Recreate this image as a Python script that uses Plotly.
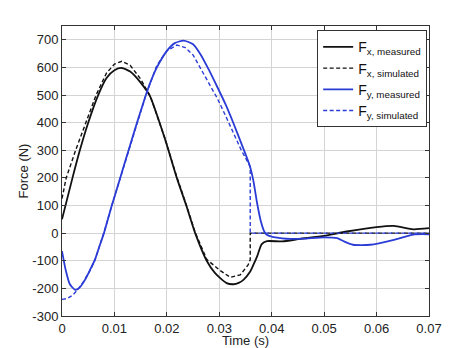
import plotly.graph_objects as go

# ---- data ----
fx_meas_t = [0, 0.001, 0.002, 0.0034, 0.005, 0.0069, 0.0085, 0.010, 0.0114, 0.013, 0.015,
             0.0168, 0.0197, 0.0219, 0.0237, 0.0254, 0.0276, 0.0292, 0.0314, 0.0327, 0.0337,
             0.0346, 0.0359, 0.0365, 0.0372, 0.0381, 0.0391, 0.042, 0.0454, 0.050, 0.0543,
             0.060, 0.0633, 0.067, 0.070]
fx_meas = [50, 125, 200, 300, 400, 500, 562, 590, 598, 585, 545,
           495, 337, 200, 100, 0, -100, -145, -181, -185, -180,
           -169, -139, -115, -85, -40, -29, -30, -21, -10, 6,
           22, 26, 14, 18]

fx_sim_t = [0, 0.0008, 0.0026, 0.0045, 0.0065, 0.0085, 0.010, 0.0114, 0.013, 0.015, 0.0168,
            0.0197, 0.0219, 0.0237, 0.0254, 0.0276, 0.030, 0.0321, 0.034, 0.0355, 0.0359,
            0.0359, 0.070]
fx_sim = [125, 200, 300, 400, 500, 580, 612, 622, 608, 558, 497,
          340, 203, 103, 3, -95, -133, -160, -151, -115, -96,
          0, 0]

fy_meas_t = [0, 0.0007, 0.0015, 0.0025, 0.0033, 0.0043, 0.0053, 0.0063, 0.0071, 0.008,
             0.0095, 0.0111, 0.0127, 0.0143, 0.016, 0.0168, 0.0181, 0.020, 0.0215, 0.0232,
             0.025, 0.0264, 0.028, 0.0296, 0.0312, 0.0327, 0.0342, 0.0358, 0.0365, 0.0372,
             0.0379, 0.0386, 0.039, 0.040, 0.042, 0.0435, 0.046, 0.050, 0.0525, 0.0538,
             0.0555, 0.0588, 0.0633, 0.067, 0.070]
fy_meas = [-65, -133, -185, -205, -198, -172, -135, -95, -50, 0,
           100, 200, 300, 400, 500, 543, 600, 660, 688, 697,
           684, 648, 592, 530, 466, 398, 325, 245, 190, 110,
           45, 5, -5, -13, -19, -21, -20, -15, -18, -30,
           -42, -42, -24, -5, -4]

fy_sim_t = [0, 0.001, 0.002, 0.003, 0.004, 0.0053, 0.0063, 0.008, 0.0095, 0.0111, 0.0127,
            0.0143, 0.016, 0.0181, 0.020, 0.0219, 0.0235, 0.025, 0.0264, 0.028, 0.0296,
            0.0312, 0.0327, 0.0342, 0.0359, 0.0359, 0.070]
fy_sim = [-240, -237, -225, -205, -178, -137, -97, 2, 100, 200, 300,
          400, 500, 608, 660, 681, 672, 645, 598, 545, 489,
          425, 362, 300, 241, 0, 0]

x_ticks = [0, 0.01, 0.02, 0.03, 0.04, 0.05, 0.06, 0.07]
x_ticktext = ["0", "0.01", "0.02", "0.03", "0.04", "0.05", "0.06", "0.07"]
y_ticks = [-300, -200, -100, 0, 100, 200, 300, 400, 500, 600, 700]
y_ticktext = ["-300", "-200", "-100", "0", "100", "200", "300", "400", "500", "600", "700"]

BLUE = "#2b3cd6"
BLACK = "#111111"
DASH = "4px,2.5px"
FONT = "Liberation Sans, Arial, sans-serif"

fig = go.Figure()
fig.add_trace(go.Scatter(x=fx_meas_t, y=fx_meas, mode="lines",
                         line=dict(color=BLACK, width=1.8, shape="spline", smoothing=0.6),
                         name="F<sub>x, measured</sub>"))
fig.add_trace(go.Scatter(x=fx_sim_t, y=fx_sim, mode="lines",
                         line=dict(color=BLACK, width=1.4, dash=DASH),
                         name="F<sub>x, simulated</sub>"))
fig.add_trace(go.Scatter(x=fy_meas_t, y=fy_meas, mode="lines",
                         line=dict(color=BLUE, width=1.8, shape="spline", smoothing=0.6),
                         name="F<sub>y, measured</sub>"))
fig.add_trace(go.Scatter(x=fy_sim_t, y=fy_sim, mode="lines",
                         line=dict(color=BLUE, width=1.4, dash=DASH),
                         name="F<sub>y, simulated</sub>"))

axis_common = dict(
    showline=True, linecolor="#333333", linewidth=1, mirror="ticks",
    ticks="inside", ticklen=4, tickcolor="#333333",
    showgrid=True, gridcolor="#d4d4d4", gridwidth=1,
    zeroline=False, automargin=False,
    tickfont=dict(family=FONT, size=13, color="#222222"),
)

fig.update_xaxes(range=[0, 0.07], tickvals=x_ticks, ticktext=x_ticktext,
                 title=dict(text="Time (s)", standoff=2,
                            font=dict(family=FONT, size=13, color="#222222")),
                 **axis_common)
fig.update_yaxes(range=[-300, 750], tickvals=y_ticks, ticktext=y_ticktext,
                 title=dict(text="Force (N)", standoff=0,
                            font=dict(family=FONT, size=13, color="#222222")),
                 **axis_common)

fig.update_layout(
    width=474, height=348,
    margin=dict(l=62, r=45, t=26, b=32),
    paper_bgcolor="white", plot_bgcolor="white",
    font=dict(family=FONT, size=13, color="#111111"),
    legend=dict(x=0.995, y=0.985, xanchor="right", yanchor="top",
                bgcolor="white", bordercolor="#333333", borderwidth=1,
                font=dict(size=14), tracegroupgap=0, itemwidth=30),
    showlegend=True,
)

fig.write_html("out.html")
